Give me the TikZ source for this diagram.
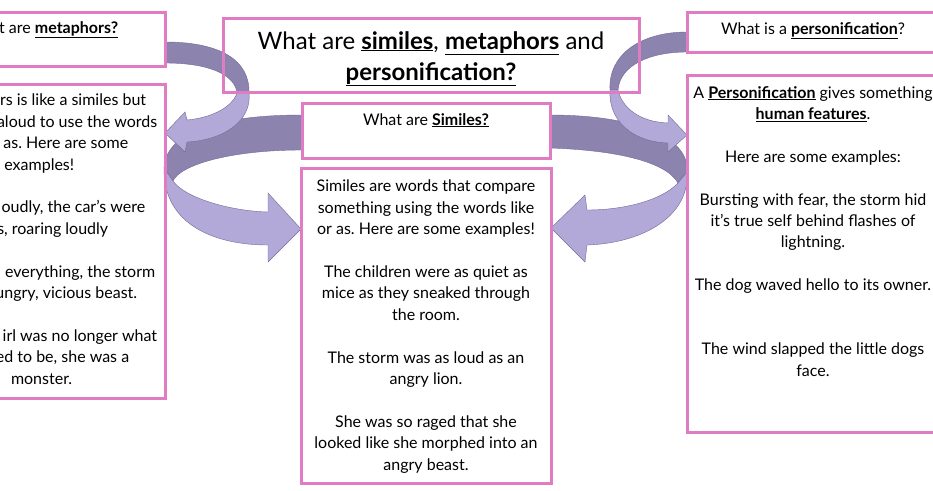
\documentclass[tikz,border=0pt]{standalone}
\usepackage{fontspec}
\setmainfont{Lato}
\usetikzlibrary{positioning}
\usetikzlibrary{backgrounds}
\definecolor{panel-pink}{HTML}{E07CC4}
\definecolor{curl-dark}{HTML}{8C83AF}
\definecolor{curl-light}{HTML}{B2A9D9}
\definecolor{curl-edge}{HTML}{716A96}
\colorlet{panel}{panel-pink}
\newcommand{\keyword}[1]{\textbf{\underline{#1}}}
% a line cut by the left edge, ending at #1 pt
\newcommand{\cutline}[2]{\makebox[#1pt][r]{#2}}
\frenchspacing
\tikzset{
  panelbox/.style={draw=panel, line width=3pt, minimum width=248pt, inner sep=0pt, outer sep=0pt},
  paneltext/.style={inner sep=0pt, align=center, font=\fontsize{16}{21.4}\selectfont},
  curlback/.style={fill=curl-dark, draw=curl-edge, line width=0.4pt},
  curlfront/.style={fill=curl-light, draw=curl-edge, line width=0.4pt},
}

\begin{document}
\begin{tikzpicture}[x=1pt, y=-1pt]
\useasboundingbox (0,0) rectangle (933,490);
\clip (0,0) rectangle (933,490);
% panels
\node[panelbox, minimum height=54pt] (mtitle) at (41,39) {};
\node[panelbox, minimum height=314pt] (mbody) at (41,241) {};
\node[panelbox, minimum width=416pt, minimum height=74pt] (title) at (431,55) {};
\node[panelbox, minimum height=55pt] (stitle) at (426,130.5) {};
\node[panelbox, minimum width=250pt, minimum height=315pt] (sbody) at (426,325.5) {};
\node[panelbox, minimum width=252pt, minimum height=40pt] (ptitle) at (813,32) {};
\node[panelbox, minimum width=252pt, minimum height=357pt] (pbody) at (813,253.5) {};
% texts
\node[paneltext, font=\fontsize{24}{31}\selectfont, below=13pt of title.north] (titletext)
  {What are \keyword{similes}, \keyword{metaphors} and\\ \keyword{personification?}};
\node[paneltext, anchor=north west] (mtitletext) at (0,21) {\cutline{118}{t are \keyword{metaphors?}}};
\node[paneltext, below=10pt of stitle.north] (stitletext) {What are \keyword{Similes?}};
\node[paneltext, below=10pt of ptitle.north] (ptitletext) {What is a \keyword{personification}?};
\node[paneltext, align=left, anchor=north west] (mbodytext) at (0,94) {%
  \cutline{146}{rs is like a similes but}\\
  \cutline{157}{aloud to use the words}\\
  \cutline{128}{as. Here are some}\\
  \cutline{74}{examples!}\\[21.4pt]
  \cutline{145}{oudly, the car's were}\\
  \cutline{108}{s, roaring loudly}\\[21.4pt]
  \cutline{155}{everything, the storm}\\
  \cutline{137}{ungry, vicious beast.}\\[21.4pt]
  \cutline{157}{irl was no longer what}\\
  \cutline{129}{ed to be, she was a}\\
  \cutline{72}{monster.}};
\node[paneltext, below=12pt of sbody.north] (sbodytext) {%
  Similes are words that compare\\
  something using the words like\\
  or as. Here are some examples!\\[21.4pt]
  The children were as quiet as\\
  mice as they sneaked through\\
  the room.\\[21.4pt]
  The storm was as loud as an\\
  angry lion.\\[21.4pt]
  She was so raged that she\\
  looked like she morphed into an\\
  angry beast.};
\node[paneltext, below=11pt of pbody.north] (pbodytext) {%
  A \keyword{Personification} gives something\\
  \keyword{human features}.\\[21.4pt]
  Here are some examples:\\[21.4pt]
  Bursting with fear, the storm hid\\
  it's true self behind flashes of\\
  lightning.\\[21.4pt]
  The dog waved hello to its owner.\\[42.8pt]
  The wind slapped the little dogs\\
  face.};
% curled arrows, under the panel borders
\begin{scope}[on background layer]
\draw[curlback] (stitle.west |- 0,115) .. controls (230,115) and (166,128) .. (164,168)
  -- (173,181) .. controls (180,165) and (230,150) .. (stitle.west |- 0,150) -- cycle;
\draw[curlfront] (173,181) .. controls (185,198) and (230,211) .. (268,212) -- (268,193)
  -- (sbody.west |- 0,229) -- (268,262) -- (268,245) .. controls (215,245) and (163,225) .. (164,168) -- cycle;
\draw[curlback] (mtitle.east |- 0,42) .. controls (220,42) and (250,60) .. (249,93)
  -- (237,93) .. controls (235,75) and (210,63) .. (mtitle.east |- 0,63) -- cycle;
\draw[curlfront] (237,93) .. controls (232,108) and (210,118) .. (187,120) -- (185,112)
  -- (mbody.east |- 0,133) -- (185,152) -- (187,142) .. controls (225,140) and (252,120) .. (249,93) -- cycle;
\draw[curlback] (stitle.east |- 0,115) .. controls (630,115) and (690,135) .. (687,172)
  -- (678,183) .. controls (665,160) and (610,150) .. (stitle.east |- 0,148) -- cycle;
\draw[curlfront] (678,183) .. controls (662,200) and (625,210) .. (587,210) -- (585,195)
  -- (sbody.east |- 0,228) -- (585,262) -- (587,245) .. controls (645,243) and (690,215) .. (687,172) -- cycle;
\draw[curlback] (ptitle.west |- 0,32) .. controls (640,32) and (608,55) .. (610,90)
  -- (618,90) .. controls (620,65) and (650,52) .. (ptitle.west |- 0,52) -- cycle;
\draw[curlfront] (618,90) .. controls (622,108) and (640,122) .. (668,123) -- (668,115)
  -- (pbody.west |- 0,135) -- (668,152) -- (668,143) .. controls (632,142) and (608,120) .. (610,90) -- cycle;
\end{scope}
\end{tikzpicture}
\end{document}
